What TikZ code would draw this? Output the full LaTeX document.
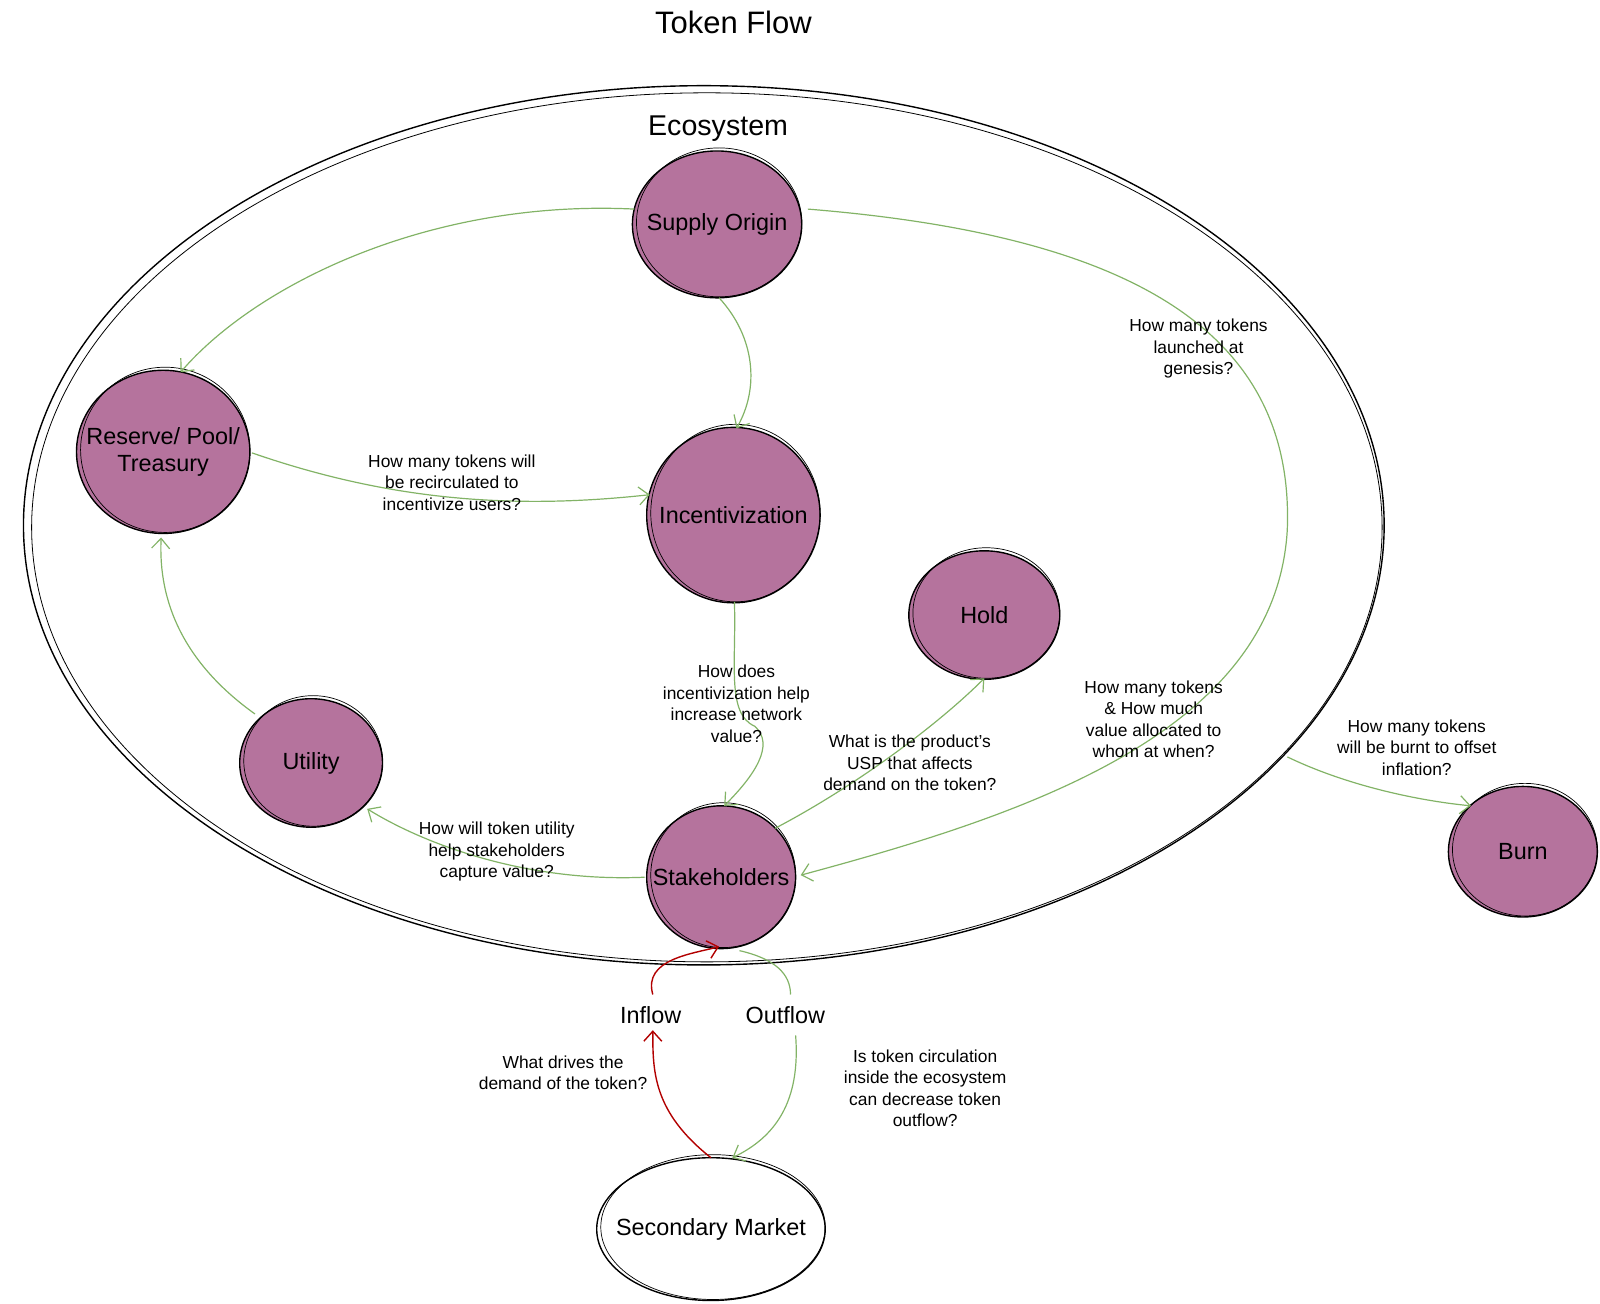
\documentclass[tikz,border=0pt]{standalone}
\usepackage{fontspec}
\setmainfont{Liberation Sans}
\usetikzlibrary{arrows.meta,calc}
\definecolor{pur}{HTML}{B5739D}
\definecolor{grn}{HTML}{82B366}
\definecolor{rd}{HTML}{B20000}
\newcommand{\bub}[5]{%
 \draw[fill=pur,line width=0.7pt] (#2) ellipse [x radius=#3,y radius=#4];%
 \draw[line width=0.35pt] ($(#2)+(2,-2)$) ellipse [x radius=#3-2,y radius=#4+1];%
 \node[ttl,align=center] (#1) at (#2) {#5};}
\begin{document}
\begin{tikzpicture}[x=0.5pt,y=-0.5pt,
 flow/.style={draw=grn,line width=0.6pt,-{Straight Barb[length=5pt,width=9pt]}},
 inflow/.style={draw=rd,line width=0.7pt,-{Straight Barb[length=5pt,width=9pt]}},
 lbl/.style={font=\fontsize{8.7}{10.7}\selectfont,align=center,inner sep=1pt},
 ttl/.style={font=\fontsize{11.7}{13.5}\selectfont}]
\useasboundingbox (0,0) rectangle (1600,1304);
\begin{scope}[scale=1.02]
\draw[line width=0.7pt] (690,515) ellipse [x radius=667,y radius=431];
\draw[line width=0.4pt] (693,517) ellipse [x radius=662,y radius=426];
\node[font=\fontsize{15.5}{17}\selectfont] (title) at (719,22) {Token Flow};
\node[font=\fontsize{14.3}{16}\selectfont] (eco) at (704,126) {Ecosystem};
\coordinate (ecoR) at (1262,742);
\bub{sup}{703,220}{83}{72}{Supply Origin}
\bub{res}{160,443}{85}{80}{Reserve/ Pool/\\Treasury}
\bub{inc}{719,505}{85}{86}{Incentivization}
\bub{hold}{965,603}{74}{63}{Hold}
\bub{uti}{305,748}{70}{63}{Utility}
\bub{stk}{707,860}{73}{70}{Stakeholders}
\bub{burn}{1493,835}{73}{64}{Burn}
\draw[fill=white,line width=0.7pt] (697,1205) ellipse [x radius=112,y radius=70];
\draw[line width=0.35pt] (699,1203) ellipse [x radius=110,y radius=71];
\node[ttl] (sec) at (697,1205) {Secondary Market};
\draw[flow] (622,205) .. controls (420,195) and (250,280) .. (177,365);
\draw[flow] (705,292) .. controls (740,330) and (745,380) .. (722,420);
\draw[flow] (792,205) .. controls (1100,230) and (1270,320) .. (1262,520) .. controls (1250,720) and (1000,800) .. (785,858);
\draw[flow] (247,444) .. controls (380,490) and (500,500) .. (637,485);
\draw[flow] (720,590) .. controls (722,650) and (712,700) .. (740,712) .. controls (760,730) and (740,760) .. (710,790);
\draw[flow] (760,812) .. controls (840,770) and (920,710) .. (965,665);
\draw[flow] (632,860) .. controls (520,865) and (420,830) .. (360,793);
\draw[flow] (250,700) .. controls (180,650) and (155,590) .. (158,527);
\draw[flow] (ecoR) .. controls (1320,770) and (1390,785) .. (1442,790);
\draw[inflow] (697,1135) .. controls (640,1090) and (640,1050) .. (640,1010);
\draw[inflow] (640,975) .. controls (630,940) and (680,935) .. (705,928);
\draw[flow,-] (725,932) .. controls (760,940) and (775,955) .. (775,975);
\draw[flow] (780,1015) .. controls (785,1080) and (760,1115) .. (718,1135);
\node[ttl] (inl) at (638,995) {Inflow};
\node[ttl] (outl) at (770,995) {Outflow};
\node[lbl] at (1175,342) {How many tokens\\launched at\\genesis?};
\node[lbl] at (443,473) {How many tokens will\\be recirculated to\\incentivize users?};
\node[lbl] at (722,690) {How does\\incentivization help\\increase network\\value?};
\node[lbl] at (892,748) {What is the product's\\USP that affects\\demand on the token?};
\node[lbl] at (487,835) {How will token utility\\help stakeholders\\capture value?};
\node[lbl] at (1131,705) {How many tokens\\\& How much\\value allocated to\\whom at when?};
\node[lbl] at (1389,733) {How many tokens\\will be burnt to offset\\inflation?};
\node[lbl] at (552,1052) {What drives the\\demand of the token?};
\node[lbl] at (907,1067) {Is token circulation\\inside the ecosystem\\can decrease token\\outflow?};
\end{scope}
\end{tikzpicture}
\end{document}
